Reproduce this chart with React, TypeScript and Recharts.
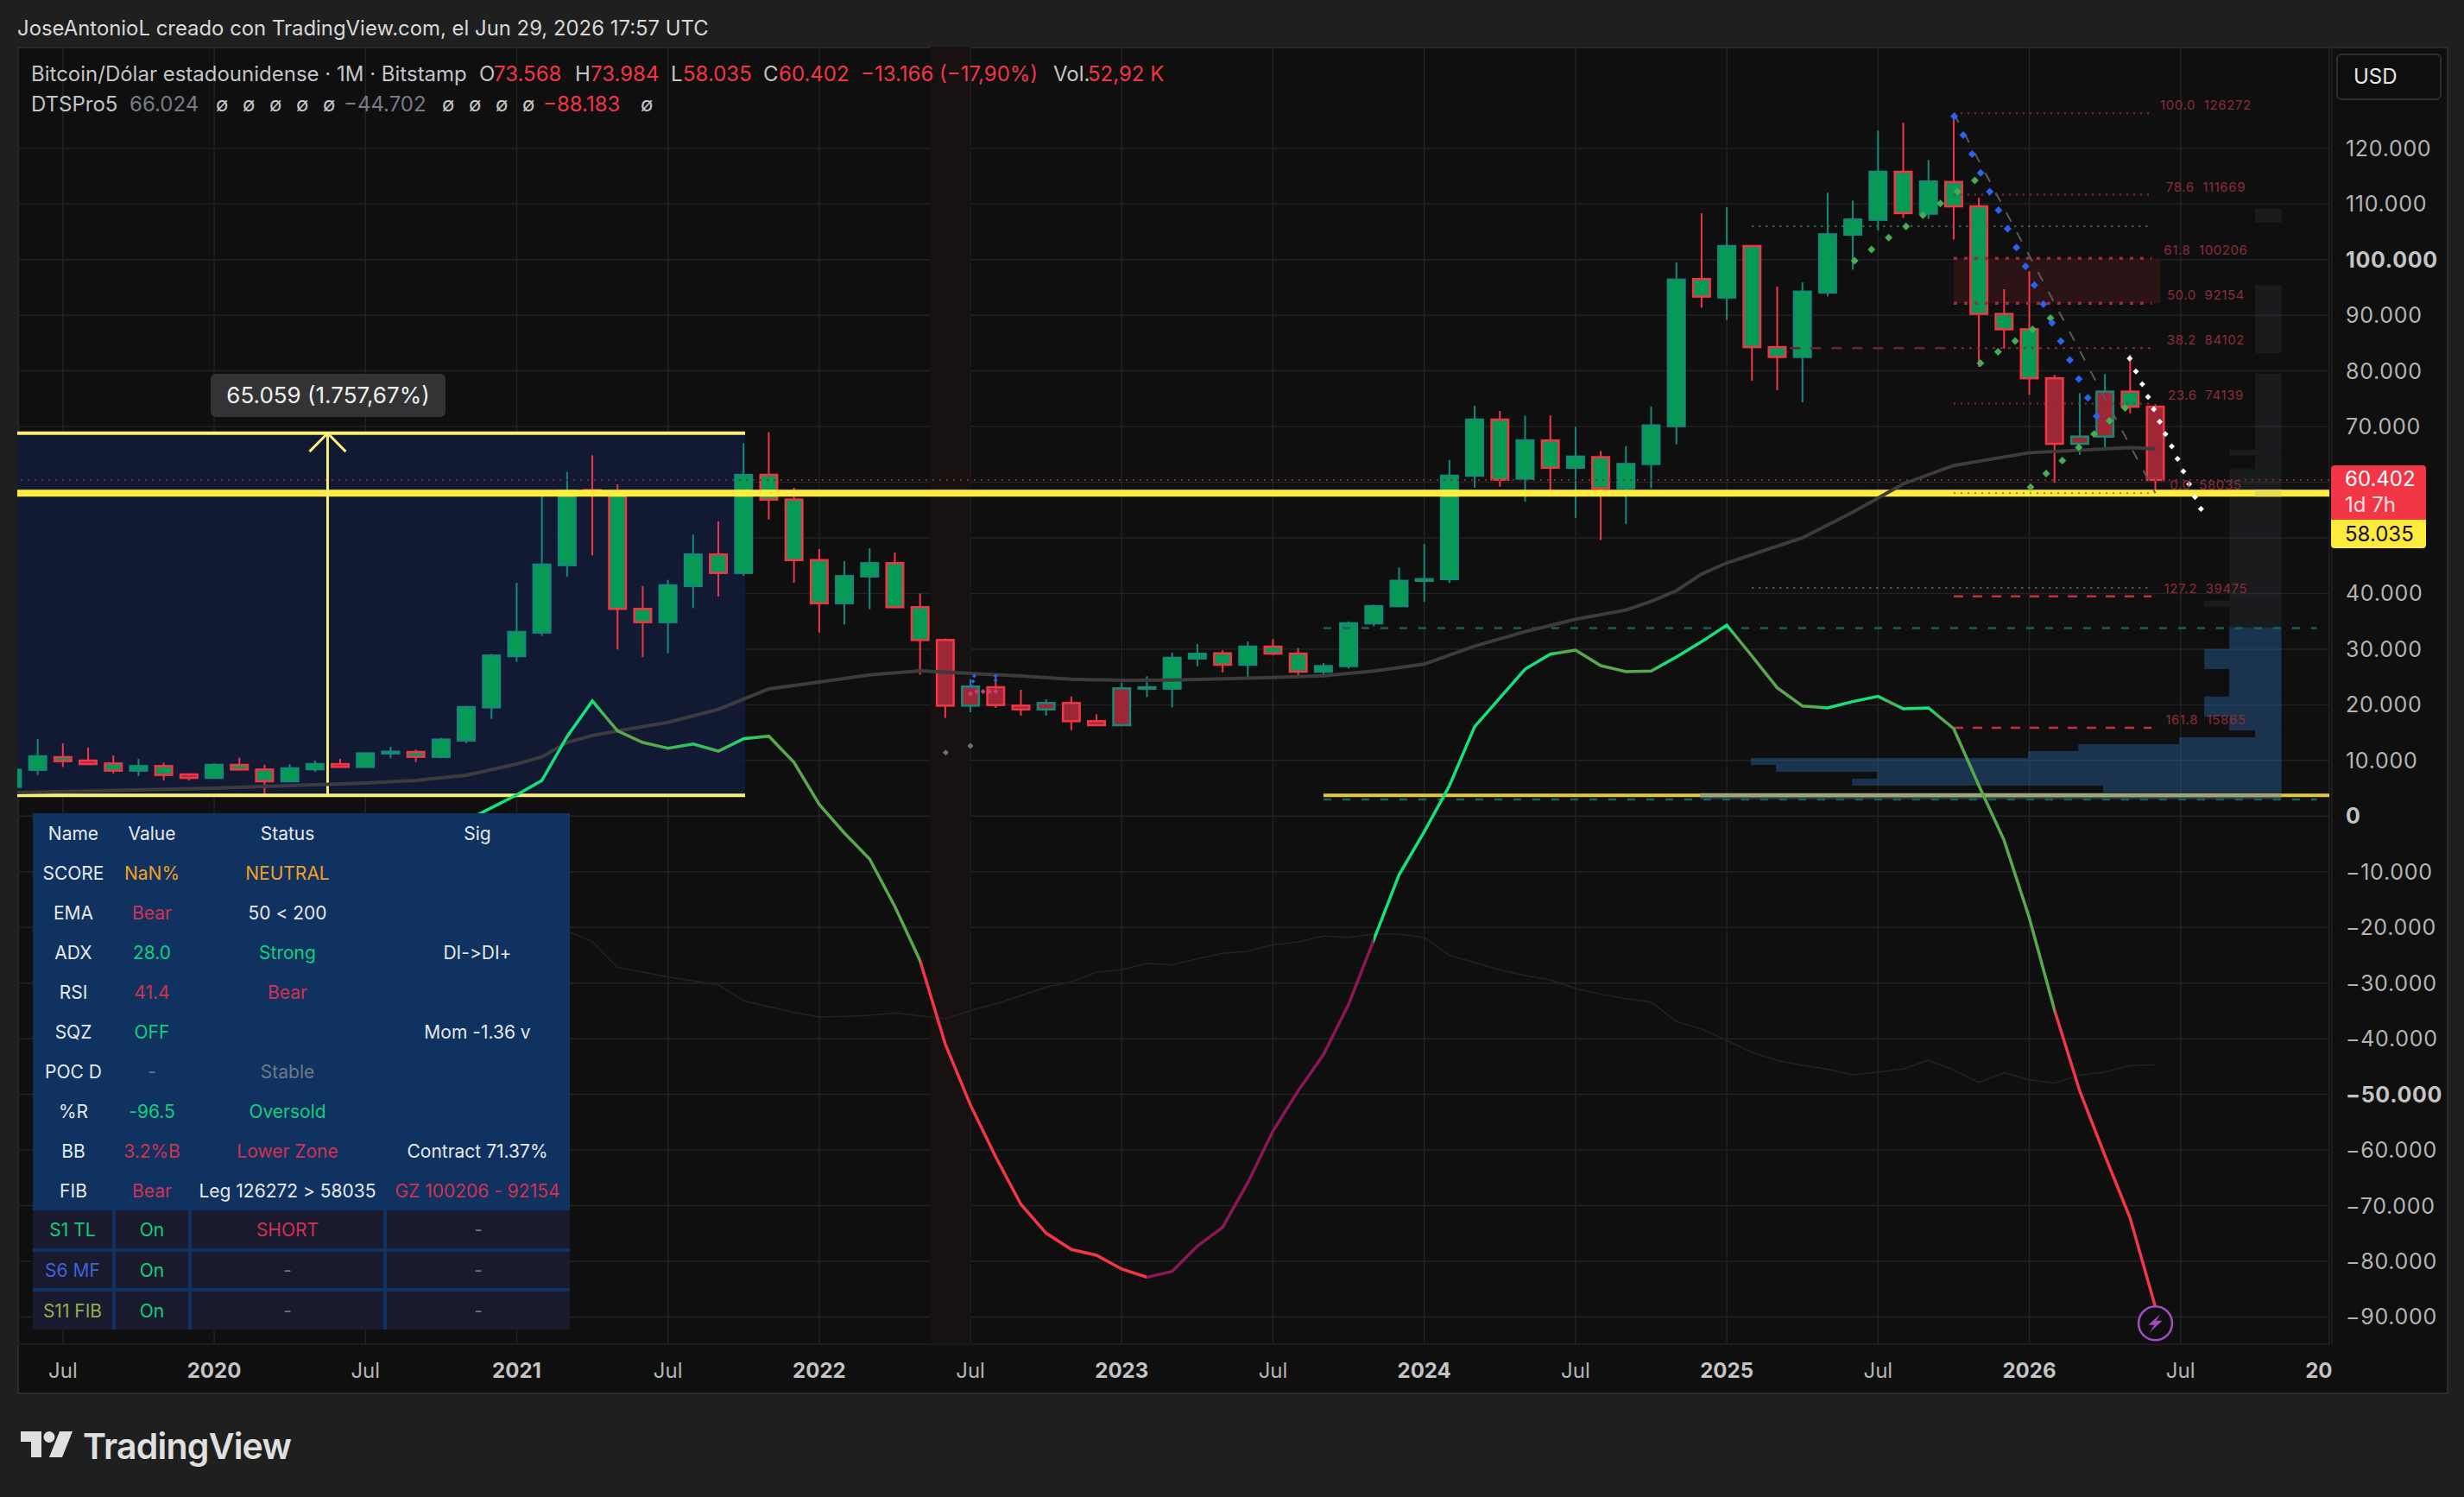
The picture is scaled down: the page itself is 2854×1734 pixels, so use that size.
import React from "react";
import {
  Bar,
  CartesianGrid,
  ComposedChart,
  Line,
  ReferenceArea,
  ReferenceLine,
  Scatter,
  XAxis,
  YAxis,
} from "recharts";

// month index: 0 = Jan 2020, one candle per month from May 2019 to Jun 2026
const firstMonth = -8;
const opens = [
  5250, 8320, 10600, 9975, 9460, 8170, 8990, 7490, 6870, 9200, 8370, 6250, 8420, 9350, 8840, 11270,
  11530, 10650, 13590, 19540, 28750, 32990, 45090, 58580, 57700, 37230, 34850, 41360, 47000, 43700,
  61320, 56880, 46000, 38260, 43070, 45450, 37540, 31640, 19850, 23160, 19850, 19180, 20320, 17060,
  16340, 22900, 22900, 28330, 29250, 27200, 30450, 29200, 25950, 26960, 34650, 37720, 42280, 42580,
  61170, 71250, 60640, 67500, 62600, 64500, 58900, 63270, 70080, 96510, 93190, 102440, 84270, 82500,
  94100, 104480, 107150, 115780, 108250, 113950, 109570, 90240, 87480, 78670, 66900, 68200, 76280, 73568,
];
const highs = [
  8600, 13850, 13080, 12300, 10900, 10280, 9600, 7700, 9500, 10490, 9250, 9350, 9970, 10290, 11400, 12460,
  11940, 14060, 19800, 29160, 41930, 58480, 61840, 64840, 59620, 41310, 42450, 50570, 52950, 67000,
  69000, 59000, 47980, 45810, 48140, 47360, 40020, 31900, 24600, 25130, 22700, 20990, 21500, 18300,
  23990, 25130, 29370, 30920, 29800, 31400, 31800, 30200, 27500, 35000, 38000, 44700, 48900, 64000,
  73750, 72800, 71950, 72000, 69970, 65600, 66500, 73600, 99500, 108310, 109420, 102500, 95125, 95900,
  112000, 110600, 123200, 124600, 117900, 126272, 111100, 94680, 97900, 79300, 76000, 79450, 82900, 73984,
];
const lows = [
  5200, 7390, 8840, 9350, 7650, 7180, 6400, 6400, 6800, 8200, 3770, 6150, 7960, 8840, 8840, 10400,
  9720, 10400, 13080, 17470, 27720, 32370, 43000, 46845, 29935, 28590, 29260, 37380, 39450, 43200,
  53300, 41930, 32990, 34430, 37175, 37430, 25386, 17630, 18660, 19440, 18040, 18040, 15450, 16230,
  16230, 21400, 19540, 26940, 25800, 24800, 28900, 25300, 24900, 26500, 34100, 37600, 38500, 41900,
  59000, 59200, 56500, 58400, 53570, 49600, 52500, 58900, 66800, 91360, 89140, 78230, 76560, 74350,
  93400, 98200, 105250, 107500, 107300, 103600, 80700, 84000, 75730, 59900, 64900, 65800, 72400, 58035,
];
const closes = [
  8320, 10750, 9870, 9350, 8170, 8990, 7390, 6870, 9200, 8370, 6250, 8580, 9350, 8840, 11270, 11570,
  10650, 13750, 19590, 28850, 33090, 45190, 58480, 57650, 37230, 34850, 41470, 47000, 43690, 61300,
  56880, 46000, 38260, 43120, 45450, 37540, 31640, 19850, 23270, 19960, 19180, 20320, 17060, 16340,
  22950, 23150, 28440, 29160, 27200, 30450, 29200, 25950, 26960, 34650, 37720, 42280, 42580, 61170,
  71250, 60445, 67500, 62600, 64600, 58900, 63270, 70200, 96400, 93350, 102440, 84270, 82500, 94240,
  104540, 107200, 115780, 108350, 114030, 109570, 90240, 87480, 78670, 66900, 68200, 76280, 73570, 60402,
];
// months whose body is painted red by the indicator instead of green
const redBodyMonths = [-5, -1, 5, 29, 30, 31, 32, 33, 34, 35, 36, 73, 74, 75, 77];

const maMonths = [-8, 0, 6, 8, 10, 12, 13, 14, 15, 16, 18, 20, 21, 22, 24, 26, 28, 30, 32, 34, 36, 38, 42, 44, 46, 48, 50, 52, 54, 56, 57, 58, 59, 60, 63, 65, 67, 69, 72, 76, 77];
const maValues = [4235, 5000, 5960, 6400, 7340, 9350, 10640, 13230, 14500, 15300, 16850, 19180, 21000, 22850, 24090, 25380, 26100, 25640, 25180, 24600, 24400, 24450, 24900, 25230, 26060, 27300, 30560, 33140, 35370, 37020, 38570, 40500, 43500, 45500, 50000, 54600, 59700, 63000, 65300, 66200, 66024];

const oscMonths = [
  9, 10, 11, 12, 13, 14, 15, 16, 17, 18, 19, 20, 21, 22, 23, 24, 25, 26, 27, 28, 29, 30, 31, 32, 33, 34, 35, 36, 37, 38, 39, 40, 41, 42, 43,
  44, 45, 46, 47, 48, 49, 50, 51, 52, 53, 54, 55, 56, 57, 58, 59, 60, 61, 62, 63, 64, 65, 66, 67, 68, 69, 70, 71, 72, 73, 74, 75, 76, 77,
];
const oscValues = [
  -3000, -800, 1500, 3800, 6400, 14300, 20700, 15300, 13230, 12200, 12970, 11680, 13900, 14370, 9660, 2100, -3050, -7700, -16240, -25960,
  -40960, -51920, -61230, -69760, -74930, -77880, -78910, -81400, -82850, -81810, -77260, -73900, -65880, -56580, -49340, -42870, -33820,
  -22190, -10550, -2800, 5480, 16080, 21250, 26420, 29110, 29830, 27040, 25950, 26060, 28590, 31330, 34330, 28750, 23060, 19800, 19440,
  20580, 21510, 19280, 19440, 15720, 5480, -4350, -18300, -34860, -49400, -61000, -72250, -88183,
];
const oscStopMonths = [9, 15, 15.6, 17.5, 19, 20, 21, 22, 28, 28, 37, 37, 46, 46, 53, 53.5, 57, 57.5, 60, 60.5, 63.5, 64, 66, 66.5, 67, 68, 68.5, 73, 73, 77];
const oscStopColors = ["#14e27a", "#14e27a", "#58a94c", "#58a94c", "#22c86a", "#58a94c", "#14e27a", "#58a94c", "#58a94c", "#f23645", "#f23645", "#8c1656", "#8c1656", "#14e27a", "#14e27a", "#58a94c", "#58a94c", "#14e27a", "#14e27a", "#58a94c", "#58a94c", "#14e27a", "#14e27a", "#58a94c", "#14e27a", "#14e27a", "#58a94c", "#58a94c", "#f23645", "#f23645"];

const dimMonths = [
  14, 15, 16, 17, 18, 19, 20, 21, 22, 23, 24, 25, 26, 27, 28, 29, 30, 31, 32, 33, 34, 35, 36, 37, 38, 39, 40, 41, 42, 43, 44, 45, 46, 47, 48,
  49, 50, 51, 52, 53, 54, 55, 56, 57, 58, 59, 60, 61, 62, 63, 64, 65, 66, 67, 68, 69, 70, 71, 72, 73, 74, 75, 76, 77,
];
const dimValues = [
  -20640, -22550, -27200, -28030, -28910, -29580, -30300, -33200, -34240, -35270, -36100, -36000, -35790, -35370, -35890, -36410, -34960,
  -33720, -32270, -30720, -29790, -28030, -27620, -26480, -26740, -25650, -24670, -24310, -23120, -22650, -21520, -21780, -21200, -21200,
  -21830, -25030, -26320, -27620, -28650, -29430, -30980, -32010, -32790, -33410, -36920, -38250, -40300, -42460, -43900, -44800, -45500,
  -46500, -46000, -45440, -43880, -45630, -47830, -46130, -47390, -47950, -46570, -46000, -44820, -44702,
];

// fibonacci levels of the Oct 2025 -> Jun 2026 leg
const fibNames = ["100.0", "78.6", "61.8", "50.0", "38.2", "23.6", "0.0", "127.2", "161.8"];
const fibPrices = [126272, 111669, 100206, 92154, 84102, 74139, 58035, 39475, 15865];
const fibDash = ["2 6", "2 6", "4 8", "4 8", "3 6", "2 6", "2 6", "11 11", "11 11"];
const fibColors = ["#8e2b3a", "#8e2b3a", "#9c2c3c", "#9c2c3c", "#8e2b3a", "#8e2b3a", "#c8742a", "#c5303f", "#c5303f"];
const fibWidths = [2, 2, 3.5, 3.5, 2, 2, 2, 2.5, 2.5];

const blueMarksM = [69.02, 69.38, 69.73, 70.07, 70.43, 70.78, 71.14, 71.49, 71.85, 72.2, 72.56, 72.9, 73.25, 73.61, 73.96, 74.32, 74.67];
const blueMarksV = [125760, 122380, 118950, 115570, 112190, 108860, 105540, 102160, 98780, 95400, 92020, 88640, 85320, 81940, 78560, 75180, 71860];
const greenMarksM = [65.07, 65.74, 66.42, 67.11, 67.78, 68.47, 69.15, 69.84, 70.06, 70.76, 71.44, 72.13, 72.84, 72.05, 72.67, 73.31, 73.96, 74.57, 75.18, 75.8];
const greenMarksV = [99780, 101830, 103930, 105980, 107980, 110080, 112190, 114240, 81390, 83435, 85375, 87480, 89475, 59115, 61550, 63880, 66260, 68640, 71030, 73350];
const whiteMarksM = [75.98, 76.23, 76.48, 76.71, 76.94, 77.17, 77.4, 77.65, 77.88, 78.11, 78.34, 78.57, 78.81];
const whiteMarksV = [82215, 79890, 77620, 75345, 73130, 70860, 68645, 66430, 64210, 61940, 59670, 57340, 55180];
const tinyMarksM = [29.02, 30];
const tinyMarksV = [11400, 12600];
const earlyBlueM = [30.05, 30.1, 30.15, 31, 31];
const earlyBlueV = [23300, 24200, 25180, 24400, 25180];
const earlyPinkM = [30, 30.25, 30.5, 30.75, 31];
const earlyPinkV = [22000, 22390, 22390, 22390, 22390];

// volume profile rows, right edge is month 82
const profileEnd = 82;
const blueRowLow = [3000, 4230, 5475, 6720, 7955, 9200, 10440, 11680, 12920, 14160, 15400, 17885, 21505, 26420, 30040];
const blueRowHigh = [4230, 5475, 6720, 7955, 9200, 10440, 11680, 12920, 14160, 15400, 17885, 21505, 26420, 30040, 33915];
const blueRowStart = [58.94, 74.93, 64.97, 65.96, 61.95, 60.96, 71.95, 73.94, 77.95, 80.96, 79.93, 78.94, 79.93, 78.94, 79.93];
const greyRowLow = [33915, 37620, 38730, 48590, 62330, 64766, 65875, 83210, 106650];
const greyRowHigh = [37620, 38730, 48590, 62330, 64766, 65875, 79500, 95400, 109086];
const greyRowStart = [79.93, 78.94, 79.93, 79.93, 80.96, 79.93, 80.96, 80.96, 80.96];

const yTicks = [120000, 110000, 100000, 90000, 80000, 70000, 60000, 50000, 40000, 30000, 20000, 10000, 0, -10000, -20000, -30000, -40000, -50000, -60000, -70000, -80000, -90000];
const boldPrices = [100000, 0, -50000];
// these two sit under the price tags, only their grid lines show
const coveredPrices = [60000, 50000];
const xTickMonths = [-6, 0, 6, 12, 18, 24, 30, 36, 42, 48, 54, 60, 66, 72, 78, 84];
const xTickLabels = ["Jul", "2020", "Jul", "2021", "Jul", "2022", "Jul", "2023", "Jul", "2024", "Jul", "2025", "Jul", "2026", "Jul", "20"];

const tableRows = [
  ["Name", "Value", "Status", "Sig"],
  ["SCORE", "NaN%", "NEUTRAL", ""],
  ["EMA", "Bear", "50 < 200", ""],
  ["ADX", "28.0", "Strong", "DI->DI+"],
  ["RSI", "41.4", "Bear", ""],
  ["SQZ", "OFF", "", "Mom -1.36 v"],
  ["POC D", "-", "Stable", ""],
  ["%R", "-96.5", "Oversold", ""],
  ["BB", "3.2%B", "Lower Zone", "Contract 71.37%"],
  ["FIB", "Bear", "Leg 126272 > 58035", "GZ 100206 - 92154"],
  ["S1 TL", "On", "SHORT", "-"],
  ["S6 MF", "On", "-", "-"],
  ["S11 FIB", "On", "-", "-"],
];
const W = "#e6e8ea", O = "#f0a020", R = "#cf3350", G = "#12cf7a", D = "#6f7884", B = "#3f63d8", L = "#8fb04a";
const tableColors = [
  [W, W, W, W], [W, O, O, W], [W, R, W, W], [W, G, G, W], [W, R, R, W], [W, G, W, W], [W, D, D, W],
  [W, G, G, W], [W, R, R, W], [W, R, W, R], [G, G, R, D], [B, G, D, D], [L, G, D, D],
];

const xMin = -7.81;
const xMax = 83.9;
const yMin = -94896;
const yMax = 138272;
const font = "Inter, 'Noto Sans', sans-serif";
const yellowLevel = 58035;
const candleWidth = 22;

const rows = opens.map((open, i) => {
  const m = firstMonth + i;
  const row: any = { m, open, high: highs[i], low: lows[i], close: closes[i], range: [lows[i], highs[i]], redBody: redBodyMonths.includes(m) };
  const ma = maMonths.indexOf(m);
  if (ma >= 0) row.ma = maValues[ma];
  const osc = oscMonths.indexOf(m);
  if (osc >= 0) row.osc = oscValues[osc];
  const dim = dimMonths.indexOf(m);
  if (dim >= 0) row.dim = dimValues[dim];
  return row;
});
const toPoints = (ms: number[], vs: number[]) => ms.map((m, i) => ({ m, y: vs[i] }));
const fibLabels = fibNames.map((name, i) => ({ m: 79, y: fibPrices[i], text: `${name}  ${fibPrices[i]}` }));

function Candle(props: any) {
  const { x, y, width, height, payload } = props;
  const { open, close, high, low, redBody } = payload;
  const up = close >= open;
  const perUnit = height / (high - low);
  const top = y + (high - Math.max(open, close)) * perUnit;
  const bottom = y + (high - Math.min(open, close)) * perUnit;
  const mid = x + (width || 0) / 2;
  const left = mid - candleWidth / 2;
  const edge = up ? "#138b78" : "#f23645";
  // body crossing the thick yellow level looks bright green
  const bandTop = y + (high - (yellowLevel + 620)) * perUnit;
  const bandBottom = y + (high - (yellowLevel - 620)) * perUnit;
  const crossTop = Math.max(top, bandTop);
  const crossBottom = Math.min(bottom, bandBottom);
  return (
    <g>
      <line x1={mid} x2={mid} y1={y} y2={y + height} stroke={edge} strokeWidth={2} />
      <rect x={left + 1.25} y={top} width={candleWidth - 2.5} height={Math.max(bottom - top, 1)} fill={redBody ? "#9e2735" : "#069a54"} stroke={edge} strokeWidth={2.5} />
      {!redBody && crossBottom > crossTop && (
        <rect x={left + 2.5} y={crossTop} width={candleWidth - 5} height={crossBottom - crossTop} fill="#70ee5c" />
      )}
    </g>
  );
}

const diamond = (fill: string, r: number) => (props: any) => {
  const { cx, cy } = props;
  return <path d={`M${cx} ${cy - r}L${cx + r} ${cy}L${cx} ${cy + r}L${cx - r} ${cy}Z`} fill={fill} />;
};

function FibLabel(props: any) {
  const { cx, cy, payload } = props;
  return (
    <text x={cx} y={cy - 8} textAnchor="middle" dominantBaseline="middle" fontFamily={font} fontSize={15} fill="#8c2d3a" letterSpacing={0.6} style={{ whiteSpace: "pre" }}>
      {payload.text}
    </text>
  );
}

function Bolt(props: any) {
  const { cx, cy } = props;
  return (
    <g>
      <circle cx={cx} cy={cy} r={19.5} fill="#0f0f10" stroke="#a54cc0" strokeWidth={2.5} />
      <path d={`M${cx + 6} ${cy - 11}L${cx - 8} ${cy + 2}L${cx - 1} ${cy + 2}L${cx - 7} ${cy + 11}L${cx + 8} ${cy - 3}L${cx + 1} ${cy - 3}Z`} fill="#a54cc0" />
    </g>
  );
}

function fmtPrice(v: number) {
  if (v === 0) return "0";
  const s = Math.abs(v).toString().replace(/\B(?=(\d{3})+$)/g, ".");
  return (v < 0 ? "\u2212" : "") + s;
}

function PriceTick(props: any) {
  const { x, y, payload } = props;
  if (coveredPrices.includes(payload.value)) return <g />;
  const bold = boldPrices.includes(payload.value);
  return (
    <text x={x + 11} y={y} dominantBaseline="central" fontFamily={font} fontSize={25} letterSpacing={0.7} fontWeight={bold ? 700 : 400} fill={bold ? "#c4c4c4" : "#b4b4b4"}>
      {fmtPrice(payload.value)}
    </text>
  );
}

function MonthTick(props: any) {
  const { x, y, payload } = props;
  const label = xTickLabels[xTickMonths.indexOf(payload.value)];
  const bold = /^20/.test(label);
  return (
    <text x={label === "20" ? x - 15 : x} y={y + 22} textAnchor="middle" dominantBaseline="central" fontFamily={font} fontSize={24} fontWeight={bold ? 700 : 400} fill={bold ? "#c4c4c4" : "#b4b4b4"}>
      {label}
    </text>
  );
}

const abs = (left: number, top: number, extra: any = {}): any => ({ position: "absolute", left, top, whiteSpace: "pre", ...extra });
const gr = "#c4c4c4";
const rd = "#f23645";
const dm = "#787b86";
const legendOne: [number, string, string][] = [
  [36, "Bitcoin/Dólar estadounidense · 1M · Bitstamp", gr], [555, "O", gr], [572, "73.568", rd], [666, "H", gr], [684, "73.984", rd],
  [777, "L", gr], [791, "58.035", rd], [884, "C", gr], [902, "60.402", rd], [997, "\u221213.166 (\u221217,90%)", rd], [1220, "Vol.", gr], [1260, "52,92 K", rd],
];
const legendTwo: [number, string, string][] = [
  [36, "DTSPro5", gr], [150, "66.024", dm], [250, "ø", gr], [281, "ø", gr], [312, "ø", gr], [343, "ø", gr], [374, "ø", gr], [398, "\u221244.702", dm],
  [512, "ø", gr], [543, "ø", gr], [574, "ø", gr], [605, "ø", gr], [629, "\u221288.183", rd], [742, "ø", gr],
];

export default function App() {
  return (
    <div style={{ position: "absolute", left: 0, top: 0, width: 2854, height: 1734, background: "#1f1f1f", overflow: "hidden", fontFamily: font }}>
      <div style={abs(20, 54, { width: 2812, height: 1557, background: "#0f0f10", border: "2px solid #2b2b2b" })} />

      <div style={{ position: "absolute", left: 0, top: 0 }}>
        <ComposedChart width={2854} height={1734} data={rows} margin={{ top: 54, right: 0, bottom: 121, left: 20 }}>
          <defs>
            <linearGradient id="oscGrad" x1="0" y1="0" x2="1" y2="0">
              {oscStopMonths.map((m, i) => (
                <stop key={i} offset={(m - 9) / (77 - 9)} stopColor={oscStopColors[i]} />
              ))}
            </linearGradient>
          </defs>
          <CartesianGrid stroke="#222224" strokeWidth={1.5} />
          <XAxis dataKey="m" type="number" domain={[xMin, xMax]} allowDataOverflow ticks={xTickMonths} interval={0} height={56} axisLine={false} tickLine={false} tick={<MonthTick />} />
          <YAxis orientation="right" type="number" domain={[yMin, yMax]} ticks={yTicks} interval={0} width={156} axisLine={false} tickLine={false} tick={<PriceTick />} />

          <ReferenceArea x1={28.4} x2={30} y1={yMin} y2={yMax} fill="#171112" fillOpacity={1} stroke="none" />
          <ReferenceArea x1={xMin} x2={21.06} y1={3741} y2={68800} fill="#131a35" fillOpacity={0.96} stroke="none" />
          <ReferenceArea x1={69} x2={77.2} y1={92154} y2={100206} fill="#2c1416" fillOpacity={1} stroke="none" />

          <ReferenceLine y={60402} stroke="#7a2a3c" strokeWidth={2} strokeDasharray="2 6" />
          <ReferenceLine y={yellowLevel} stroke="#ffec3d" strokeWidth={8} />
          <ReferenceLine segment={[{ x: 80.96, y: yellowLevel }, { x: profileEnd, y: yellowLevel }]} stroke="#e6da50" strokeWidth={8} />
          <ReferenceLine segment={[{ x: 44, y: 33800 }, { x: 83.4, y: 33800 }]} stroke="#1d5e58" strokeWidth={2.5} strokeDasharray="9 13" />
          <ReferenceLine segment={[{ x: 44, y: 3000 }, { x: 83.4, y: 3000 }]} stroke="#1d5e58" strokeWidth={2.5} strokeDasharray="9 13" />
          <ReferenceLine segment={[{ x: 44, y: 3741 }, { x: xMax, y: 3741 }]} stroke="#e0c840" strokeWidth={4} />
          <ReferenceLine segment={[{ x: 58.94, y: 3741 }, { x: profileEnd, y: 3741 }]} stroke="#a3a673" strokeWidth={4} />
          <ReferenceLine segment={[{ x: 61, y: 106000 }, { x: 76.85, y: 106000 }]} stroke="#2e7a55" strokeWidth={2} strokeDasharray="2 6" />
          <ReferenceLine segment={[{ x: 61, y: 41000 }, { x: 76.85, y: 41000 }]} stroke="#2e7a55" strokeWidth={2} strokeDasharray="2 6" />
          <ReferenceLine segment={[{ x: 62.5, y: 84102 }, { x: 69, y: 84102 }]} stroke="#6b2430" strokeWidth={2.5} strokeDasharray="12 12" />
          {fibPrices.map((price, i) => (
            <ReferenceLine key={price} segment={[{ x: 69, y: price }, { x: 76.85, y: price }]} stroke={fibColors[i]} strokeWidth={fibWidths[i]} strokeDasharray={fibDash[i]} />
          ))}
          <ReferenceLine segment={[{ x: 69, y: 126272 }, { x: 77, y: 58035 }]} stroke="#5a5a5c" strokeWidth={2} strokeDasharray="12 14" />

          <ReferenceLine segment={[{ x: xMin, y: 68800 }, { x: 21.06, y: 68800 }]} stroke="#f9f07a" strokeWidth={4} />
          <ReferenceLine segment={[{ x: xMin, y: 3741 }, { x: 21.06, y: 3741 }]} stroke="#f9f07a" strokeWidth={4} />
          <ReferenceLine segment={[{ x: 4.5, y: 3741 }, { x: 4.5, y: 68800 }]} stroke="#f9f07a" strokeWidth={3} />
          <ReferenceLine segment={[{ x: 3.78, y: 65500 }, { x: 4.5, y: 68800 }]} stroke="#f9f07a" strokeWidth={3} />
          <ReferenceLine segment={[{ x: 5.22, y: 65500 }, { x: 4.5, y: 68800 }]} stroke="#f9f07a" strokeWidth={3} />

          <Line dataKey="dim" stroke="#232325" strokeWidth={1.5} dot={false} connectNulls isAnimationActive={false} />
          <Bar dataKey="range" barSize={22} shape={<Candle />} isAnimationActive={false} />
          <Line dataKey="ma" stroke="#3c3c3f" strokeWidth={4} dot={false} connectNulls isAnimationActive={false} />
          <Line dataKey="osc" stroke="url(#oscGrad)" strokeWidth={3.5} dot={false} connectNulls isAnimationActive={false} />

          {greyRowLow.map((low, i) => (
            <ReferenceArea key={`g${i}`} x1={greyRowStart[i]} x2={profileEnd} y1={low} y2={greyRowHigh[i]} fill="#60707a" fillOpacity={0.13} stroke="none" />
          ))}
          {blueRowLow.map((low, i) => (
            <ReferenceArea key={`b${i}`} x1={blueRowStart[i]} x2={profileEnd} y1={low} y2={blueRowHigh[i]} fill="#2a6aa8" fillOpacity={0.42} stroke="none" />
          ))}

          <Scatter data={toPoints(tinyMarksM, tinyMarksV)} dataKey="y" shape={diamond("#6f6f75", 3.5)} isAnimationActive={false} />
          <Scatter data={toPoints(earlyPinkM, earlyPinkV)} dataKey="y" shape={diamond("#c8407a", 3)} isAnimationActive={false} />
          <Scatter data={toPoints(earlyBlueM, earlyBlueV)} dataKey="y" shape={diamond("#2b62f0", 2.5)} isAnimationActive={false} />
          <Scatter data={toPoints(greenMarksM, greenMarksV)} dataKey="y" shape={diamond("#46ad52", 4.5)} isAnimationActive={false} />
          <Scatter data={toPoints(blueMarksM, blueMarksV)} dataKey="y" shape={diamond("#2b62f0", 4.5)} isAnimationActive={false} />
          <Scatter data={toPoints(whiteMarksM, whiteMarksV)} dataKey="y" shape={diamond("#ffffff", 3.5)} isAnimationActive={false} />
          <Scatter data={fibLabels} dataKey="y" shape={<FibLabel />} isAnimationActive={false} />
          <Scatter data={[{ m: 77, y: -91140 }]} dataKey="y" shape={<Bolt />} isAnimationActive={false} />
        </ComposedChart>
      </div>

      <div style={abs(20, 19, { fontSize: 23.9, color: "#d8d8d8", lineHeight: "28px" })}>JoseAntonioL creado con TradingView.com, el Jun 29, 2026 17:57 UTC</div>
      {legendOne.map(([left, text, color], i) => (
        <div key={i} style={abs(left, 72, { fontSize: 24, color, lineHeight: "28px" })}>{text}</div>
      ))}
      {legendTwo.map(([left, text, color], i) => (
        <div key={i} style={abs(left, 107, { fontSize: 24, color, lineHeight: "28px" })}>{text}</div>
      ))}

      <div style={abs(244, 433, { width: 272, height: 50, background: "#333335", borderRadius: 6, color: "#f0f0f0", fontSize: 26, lineHeight: "50px", textAlign: "center" })}>65.059 (1.757,67%)</div>

      <table style={{ position: "absolute", left: 38, top: 942, width: 622, tableLayout: "fixed", borderCollapse: "collapse", background: "#103260", fontSize: 21, fontFeatureSettings: '"calt" 0', fontVariantLigatures: "none" }}>
        <colgroup>
          <col style={{ width: 94 }} />
          <col style={{ width: 88 }} />
          <col style={{ width: 226 }} />
          <col style={{ width: 214 }} />
        </colgroup>
        <tbody>
          {tableRows.map((row, r) => (
            <tr key={r} style={{ height: 46 }}>
              {row.map((cell, c) => (
                <td
                  key={c}
                  style={{
                    padding: 0,
                    textAlign: "center",
                    color: tableColors[r][c],
                    whiteSpace: "nowrap",
                    background: r >= 10 ? "#1a1a2e" : "transparent",
                    borderBottom: r >= 10 && r < 12 ? "4px solid #103260" : "none",
                    borderRight: r >= 10 && c < 3 ? "4px solid #103260" : "none",
                  }}
                >
                  {cell}
                </td>
              ))}
            </tr>
          ))}
        </tbody>
      </table>

      <div style={abs(2706, 62, { width: 118, height: 50, border: "2px solid #2e2e2e", borderRadius: 6, color: "#e6e6e6", fontSize: 24, lineHeight: "50px", textIndent: 18 })}>USD</div>
      <div style={abs(2700, 539, { width: 94, height: 62, paddingLeft: 16, paddingTop: 1, background: "#f23645", borderRadius: "4px 4px 0 0", color: "#fff", fontSize: 24, lineHeight: "30px" })}>
        60.402{"\n"}<span style={{ opacity: 0.85 }}>1d 7h</span>
      </div>
      <div style={abs(2700, 602, { width: 94, height: 33, paddingLeft: 16, background: "#ffeb3b", borderRadius: "0 0 4px 4px", color: "#111", fontSize: 24, lineHeight: "33px" })}>58.035</div>

      <svg style={abs(24, 1658)} width={60} height={30} viewBox="0 0 60 30">
        <path d="M0 0H24V30H12V12H0Z" fill="#e0e0e0" />
        <circle cx={33} cy={6.5} r={6.5} fill="#e0e0e0" />
        <path d="M45 0H60L48 30H33Z" fill="#e0e0e0" />
      </svg>
      <div style={abs(96, 1650, { fontSize: 41, fontWeight: 600, letterSpacing: -0.8, color: "#e0e0e0", lineHeight: "50px" })}>TradingView</div>
    </div>
  );
}
